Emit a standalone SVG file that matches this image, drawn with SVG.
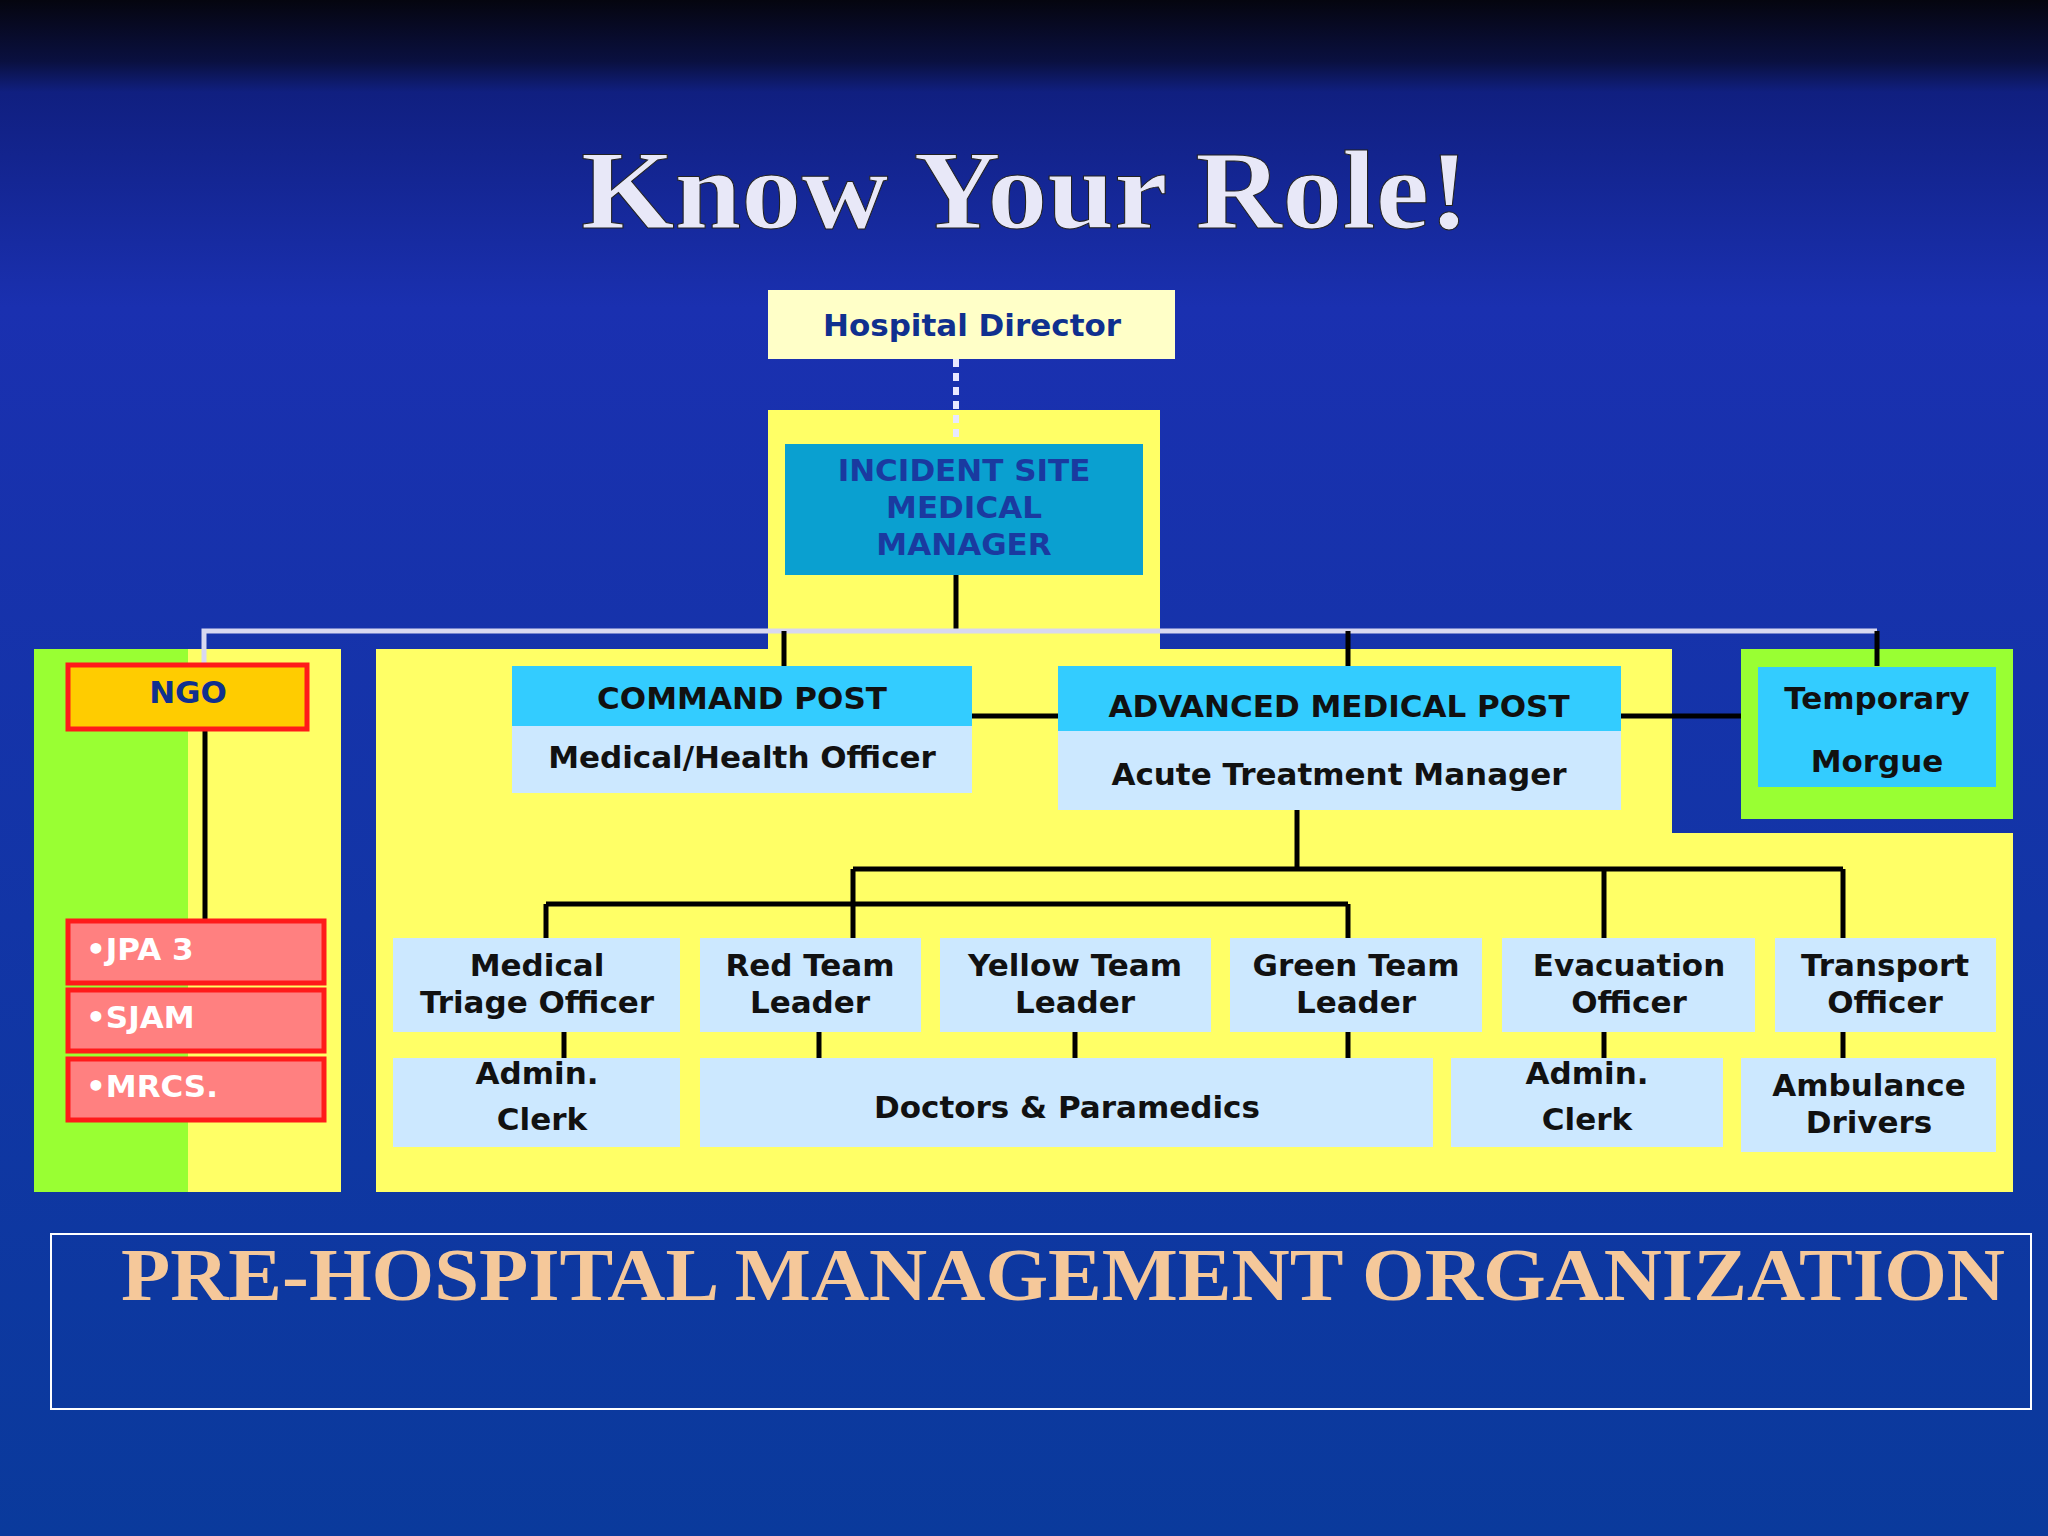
<svg xmlns="http://www.w3.org/2000/svg" width="2048" height="1536" viewBox="0 0 2048 1536">
<defs>
<linearGradient id="bg" x1="0" y1="0" x2="0" y2="1">
<stop offset="0" stop-color="#05050f"/>
<stop offset="0.04" stop-color="#0a1040"/>
<stop offset="0.06" stop-color="#101f80"/>
<stop offset="0.2" stop-color="#1a30b0"/>
<stop offset="1" stop-color="#0a3a9c"/>
</linearGradient>
<style>
.t{font-family:"DejaVu Sans",Verdana,sans-serif;font-weight:bold;font-size:31px;fill:#111;text-anchor:middle}
.hd{fill:#33ccff}
.lb{fill:#cce8ff}
.k{stroke:#000;stroke-width:5;fill:none}
.red{fill:#ff8080;stroke:#ff1a1a;stroke-width:5}
.w{font-family:"DejaVu Sans",Verdana,sans-serif;font-weight:bold;font-size:31px;fill:#fff}
</style>
</defs>
<rect width="2048" height="1536" fill="url(#bg)"/>
<text x="1025" y="228" font-family="Liberation Serif,serif" font-weight="bold" font-size="112" fill="#e8e8f8" text-anchor="middle" stroke="#222" stroke-width="1" textLength="888" lengthAdjust="spacingAndGlyphs">Know Your Role!</text>

<g id="panels">
<rect x="768" y="410" width="392" height="239" fill="#ffff66"/>
<rect x="34" y="649" width="154" height="543" fill="#99ff33"/>
<rect x="188" y="649" width="153" height="543" fill="#ffff66"/>
<polygon points="376,649 1672,649 1672,833 2013,833 2013,1192 376,1192" fill="#ffff66"/>
<rect x="1741" y="649" width="272" height="170" fill="#99ff33"/>
</g>

<g id="connectors">
<line x1="956" y1="359" x2="956" y2="437" stroke="#e8e8ff" stroke-width="6" stroke-dasharray="8,6"/>
<line x1="956" y1="575" x2="956" y2="631" class="k"/>
<polyline points="204,666 204,631 1877,631" stroke="#d8d8f0" stroke-width="5" fill="none"/>
<line x1="784" y1="631" x2="784" y2="666" class="k"/>
<line x1="1348" y1="631" x2="1348" y2="666" class="k"/>
<line x1="1877" y1="631" x2="1877" y2="666" class="k"/>
<line x1="205" y1="729" x2="205" y2="921" class="k"/>
<line x1="972" y1="716" x2="1058" y2="716" class="k"/>
<line x1="1621" y1="716" x2="1741" y2="716" class="k"/>
<line x1="1297" y1="810" x2="1297" y2="869" class="k"/>
<line x1="853" y1="869" x2="1843" y2="869" class="k"/>
<line x1="546" y1="904" x2="1348" y2="904" class="k"/>
<line x1="853" y1="869" x2="853" y2="938" class="k"/>
<line x1="546" y1="904" x2="546" y2="938" class="k"/>
<line x1="1348" y1="904" x2="1348" y2="938" class="k"/>
<line x1="1604" y1="869" x2="1604" y2="938" class="k"/>
<line x1="1843" y1="869" x2="1843" y2="938" class="k"/>
<line x1="564" y1="1032" x2="564" y2="1058" class="k"/>
<line x1="819" y1="1032" x2="819" y2="1058" class="k"/>
<line x1="1075" y1="1032" x2="1075" y2="1058" class="k"/>
<line x1="1348" y1="1032" x2="1348" y2="1058" class="k"/>
<line x1="1604" y1="1032" x2="1604" y2="1058" class="k"/>
<line x1="1843" y1="1032" x2="1843" y2="1058" class="k"/>
</g>

<g id="director"><rect x="768" y="290" width="407" height="69" fill="#ffffc8"/><text class="t" x="972" y="336" style="fill:#10308f">Hospital Director</text></g>
<g id="ismm"><rect x="785" y="444" width="358" height="131" fill="#0aa0d0"/>
<text class="t" x="964" y="481" style="fill:#1a3aa0">INCIDENT SITE</text>
<text class="t" x="964" y="518" style="fill:#1a3aa0">MEDICAL</text>
<text class="t" x="964" y="555" style="fill:#1a3aa0">MANAGER</text></g>
<g id="ngo"><rect x="68" y="665" width="239" height="64" fill="#ffcc00" stroke="#ff1a1a" stroke-width="5"/><text class="t" x="188" y="703" style="fill:#10308f">NGO</text></g>
<g id="jpa"><rect class="red" x="68" y="921" width="256" height="62"/><text class="w" x="86" y="960">•JPA 3</text></g>
<g id="sjam"><rect class="red" x="68" y="990" width="256" height="61"/><text class="w" x="86" y="1028">•SJAM</text></g>
<g id="mrcs"><rect class="red" x="68" y="1059" width="256" height="61"/><text class="w" x="86" y="1097">•MRCS.</text></g>
<g id="cp"><rect class="hd" x="512" y="666" width="460" height="60"/><rect class="lb" x="512" y="726" width="460" height="67"/>
<text class="t" x="742" y="709">COMMAND POST</text><text class="t" x="742" y="768">Medical/Health Officer</text></g>
<g id="amp"><rect class="hd" x="1058" y="666" width="563" height="65"/><rect class="lb" x="1058" y="731" width="563" height="79"/>
<text class="t" x="1339" y="717">ADVANCED MEDICAL POST</text><text class="t" x="1339" y="785">Acute Treatment Manager</text></g>
<g id="morgue"><rect class="hd" x="1758" y="667" width="238" height="120"/>
<text class="t" x="1877" y="709">Temporary</text><text class="t" x="1877" y="772">Morgue</text></g>
<g id="mto"><rect class="lb" x="393" y="938" width="287" height="94"/><text class="t" x="537" y="976">Medical</text><text class="t" x="537" y="1013">Triage Officer</text></g>
<g id="red"><rect class="lb" x="700" y="938" width="221" height="94"/><text class="t" x="810" y="976">Red Team</text><text class="t" x="810" y="1013">Leader</text></g>
<g id="yellow"><rect class="lb" x="940" y="938" width="271" height="94"/><text class="t" x="1075" y="976">Yellow Team</text><text class="t" x="1075" y="1013">Leader</text></g>
<g id="green"><rect class="lb" x="1230" y="938" width="252" height="94"/><text class="t" x="1356" y="976">Green Team</text><text class="t" x="1356" y="1013">Leader</text></g>
<g id="evac"><rect class="lb" x="1502" y="938" width="253" height="94"/><text class="t" x="1629" y="976">Evacuation</text><text class="t" x="1629" y="1013">Officer</text></g>
<g id="transport"><rect class="lb" x="1775" y="938" width="221" height="94"/><text class="t" x="1885" y="976">Transport</text><text class="t" x="1885" y="1013">Officer</text></g>
<g id="admin1"><rect class="lb" x="393" y="1058" width="287" height="89"/><text class="t" x="537" y="1084">Admin.</text><text class="t" x="542" y="1130">Clerk</text></g>
<g id="doctors"><rect class="lb" x="700" y="1058" width="733" height="89"/><text class="t" x="1067" y="1118">Doctors &amp; Paramedics</text></g>
<g id="admin2"><rect class="lb" x="1451" y="1058" width="272" height="89"/><text class="t" x="1587" y="1084">Admin.</text><text class="t" x="1587" y="1130">Clerk</text></g>
<g id="ambulance"><rect class="lb" x="1741" y="1058" width="255" height="94"/><text class="t" x="1869" y="1096">Ambulance</text><text class="t" x="1869" y="1133">Drivers</text></g>

<g id="footer"><rect x="51" y="1234" width="1980" height="175" fill="none" stroke="#fff" stroke-width="2"/>
<text x="121" y="1300" font-family="Liberation Serif,serif" font-weight="bold" font-size="74" fill="#f5c89a" textLength="1884" lengthAdjust="spacingAndGlyphs">PRE-HOSPITAL MANAGEMENT ORGANIZATION</text></g>
</svg>
